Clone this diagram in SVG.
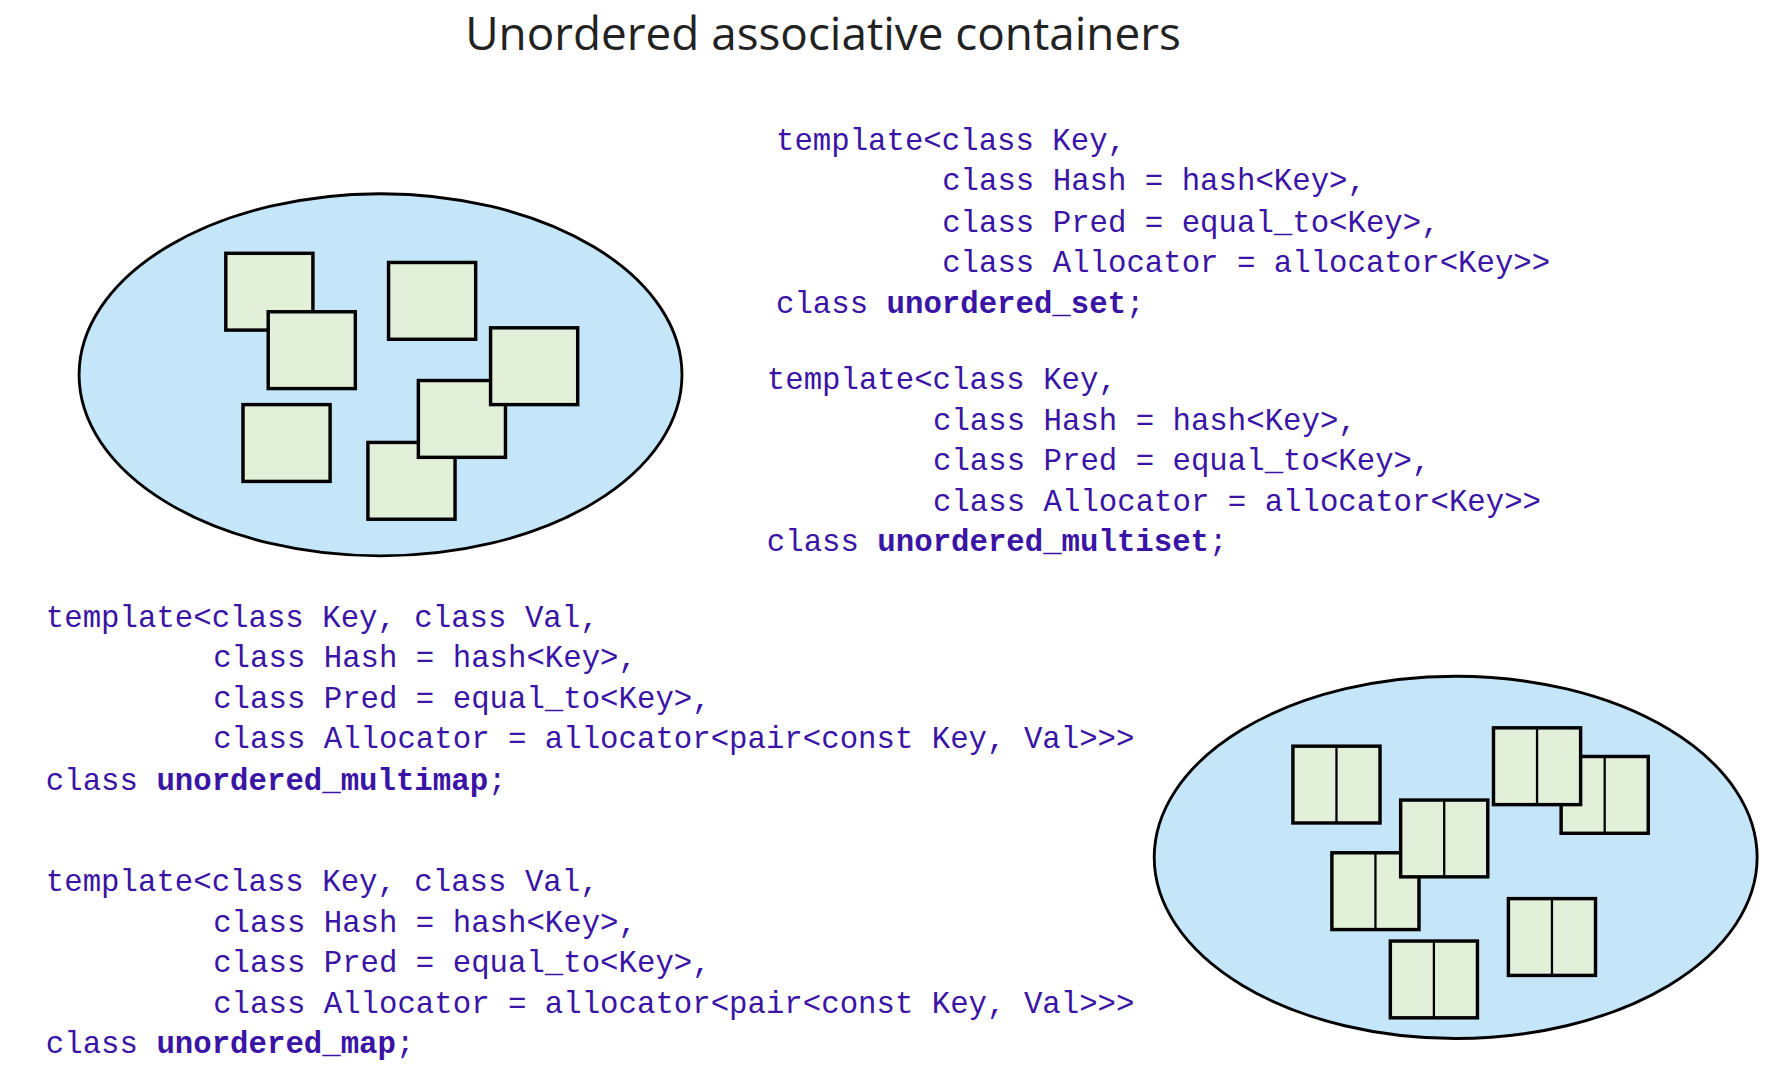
<svg xmlns="http://www.w3.org/2000/svg" width="1788" height="1072" viewBox="0 0 1788 1072">
<style>
.t{font-family:"Open Sans","Liberation Sans",sans-serif;font-size:40px;fill:#222}
.c{font-family:"Liberation Mono","DejaVu Sans Mono",monospace;font-size:26.8px;fill:#3a15a5}
.b{font-weight:bold}
.e{fill:#c5e5f8;stroke:#000;stroke-width:2.5}
.s{fill:#e2f0d9;stroke:#000;stroke-width:3}
.d{stroke:#000;stroke-width:2}
</style>
<rect width="1788" height="1072" fill="#fff"/>
<g transform="scale(1.1462)">
<text class="t" x="718" y="44" text-anchor="middle">Unordered associative containers</text>
<g id="set-ellipse">
<ellipse class="e" cx="332" cy="327" rx="263" ry="158"/>
<rect class="s" x="197" y="221" width="76" height="67"/>
<rect class="s" x="234" y="272" width="76" height="67"/>
<rect class="s" x="339" y="229" width="76" height="67"/>
<rect class="s" x="212" y="353" width="76" height="67"/>
<rect class="s" x="321" y="386" width="76" height="67"/>
<rect class="s" x="365" y="332" width="76" height="67"/>
<rect class="s" x="428" y="286" width="76" height="67"/>
</g>
<g id="map-ellipse">
<ellipse class="e" cx="1270" cy="748" rx="263" ry="158"/>
<g class="s"><rect x="1128" y="651" width="76" height="67"/><line class="d" x1="1166" y1="651" x2="1166" y2="718"/></g>
<g><rect class="s" x="1362" y="660" width="76" height="67"/><line class="d" x1="1400" y1="660" x2="1400" y2="727"/></g>
<g><rect class="s" x="1303" y="635" width="76" height="67"/><line class="d" x1="1341" y1="635" x2="1341" y2="702"/></g>
<g><rect class="s" x="1162" y="744" width="76" height="67"/><line class="d" x1="1200" y1="744" x2="1200" y2="811"/></g>
<g><rect class="s" x="1222" y="698" width="76" height="67"/><line class="d" x1="1260" y1="698" x2="1260" y2="765"/></g>
<g><rect class="s" x="1316" y="784" width="76" height="67"/><line class="d" x1="1354" y1="784" x2="1354" y2="851"/></g>
<g><rect class="s" x="1213" y="821" width="76" height="67"/><line class="d" x1="1251" y1="821" x2="1251" y2="888"/></g>
</g>
<g id="unordered_set" class="c">
<text x="677" y="131">template&lt;class Key,</text>
<text x="822" y="166">class Hash = hash&lt;Key&gt;,</text>
<text x="822" y="202">class Pred = equal_to&lt;Key&gt;,</text>
<text x="822" y="237">class Allocator = allocator&lt;Key&gt;&gt;</text>
<text x="677" y="273">class <tspan class="b">unordered_set</tspan>;</text>
</g>
<g id="unordered_multiset" class="c">
<text x="669" y="339">template&lt;class Key,</text>
<text x="814" y="375">class Hash = hash&lt;Key&gt;,</text>
<text x="814" y="410">class Pred = equal_to&lt;Key&gt;,</text>
<text x="814" y="446">class Allocator = allocator&lt;Key&gt;&gt;</text>
<text x="669" y="481">class <tspan class="b">unordered_multiset</tspan>;</text>
</g>
<g id="unordered_multimap" class="c">
<text x="40" y="547">template&lt;class Key, class Val,</text>
<text x="186" y="582">class Hash = hash&lt;Key&gt;,</text>
<text x="186" y="618">class Pred = equal_to&lt;Key&gt;,</text>
<text x="186" y="653">class Allocator = allocator&lt;pair&lt;const Key, Val&gt;&gt;&gt;</text>
<text x="40" y="689">class <tspan class="b">unordered_multimap</tspan>;</text>
</g>
<g id="unordered_map" class="c">
<text x="40" y="777">template&lt;class Key, class Val,</text>
<text x="186" y="813">class Hash = hash&lt;Key&gt;,</text>
<text x="186" y="848">class Pred = equal_to&lt;Key&gt;,</text>
<text x="186" y="884">class Allocator = allocator&lt;pair&lt;const Key, Val&gt;&gt;&gt;</text>
<text x="40" y="919">class <tspan class="b">unordered_map</tspan>;</text>
</g>
<g id="connectors"/>
</g>
</svg>
